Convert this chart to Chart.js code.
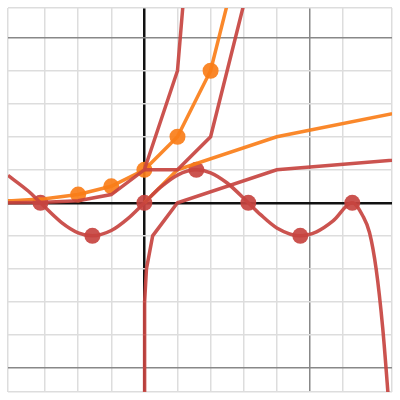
<!DOCTYPE html>
<html><head><meta charset="utf-8">
<script src="https://cdn.jsdelivr.net/npm/chart.js@4"></script>
<style>html,body{margin:0;padding:0;background:#fff}#c{width:400px;height:400px}</style>
</head><body><div id="c"><canvas id="cv" width="400" height="400"></canvas></div>
<script>
const expX = [-5,-4,-3,-2,-1,0,1,2,3];
const expY = [0.031,0.063,0.125,0.25,0.5,1,2,4,8];
const expPtX = [-2,-1,0,1,2];
const expPtY = [0.25,0.5,1,2,4];
const sqrtX = [0,1,4,9];
const sqrtY = [0,1,2,3];
const pow4X = [-5,-4,-3,-2,-1,0,1,2];
const pow4Y = [0.001,0.004,0.016,0.0625,0.25,1,4,16];
const factX = [0,1,2,3,4];
const factY = [1,1,2,6,24];
const log4X = [0.00024,0.001,0.0039,0.0156,0.0625,0.25,1,4,16];
const log4Y = [-6,-5,-4,-3,-2,-1,0,1,2];
const waveX = [-4.12,-3.5,-3.14,-2.5,-2,-1.57,-1,-0.5,0,0.5,1,1.57,2,2.5,3.14,3.5,4,4.71,5.2,5.7,6.28,6.6,6.8,7.0,7.2,7.4];
const waveY = [0.83,0.35,0,-0.6,-0.91,-1,-0.84,-0.48,0,0.48,0.84,1,0.91,0.6,0,-0.35,-0.76,-1,-0.88,-0.55,0,-0.4,-0.9,-2,-3.8,-6.3];
const wavePtX = [-3.14,-1.57,0,1.57,3.14,4.71,6.28];
const wavePtY = [0,-1,0,1,0,-1,0];

const RED='rgba(199,68,64,0.92)', ORG='rgba(250,126,25,0.92)';
const pts=(xs,ys)=>xs.map((x,i)=>({x,y:ys[i]}));
const line=(xs,ys,c,extra={})=>Object.assign({data:pts(xs,ys),borderColor:c,backgroundColor:c,borderWidth:3.5,pointRadius:0,showLine:true,tension:0},extra);
const dots=(xs,ys,c)=>({data:pts(xs,ys),borderColor:c,backgroundColor:c,pointRadius:8,pointBorderWidth:0,showLine:false});
const gridColor=ctx=>{const v=ctx.tick&&ctx.tick.value;if(Math.abs(v)<1e-9)return '#111';if(Math.abs(v%5)<1e-9)return '#888';return '#ddd';};
const gridWidth=ctx=>{const v=ctx.tick&&ctx.tick.value;return Math.abs(v)<1e-9?2.5:1.5;};
const axis=(min,max)=>({type:'linear',min,max,ticks:{display:false,stepSize:1},border:{display:false},grid:{color:gridColor,lineWidth:gridWidth,drawTicks:false}});
new Chart(document.getElementById('cv'),{type:'scatter',
data:{datasets:[
 line(waveX,waveY,RED,{tension:0.4,cubicInterpolationMode:'monotone'}),
 line(log4X,log4Y,RED),
 line(factX,factY,RED),
 line(pow4X,pow4Y,RED),
 line(sqrtX,sqrtY,ORG),
 line(expX,expY,ORG),
 dots(wavePtX,wavePtY,RED),
 dots(expPtX,expPtY,ORG)
]},
options:{responsive:false,animation:false,layout:{padding:0},
 plugins:{legend:{display:false},tooltip:{enabled:false}},
 scales:{x:axis(-4.12,7.48),y:axis(-5.73,5.9)}}});
</script></body></html>
